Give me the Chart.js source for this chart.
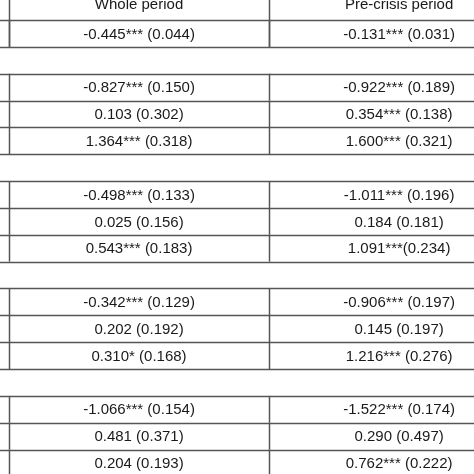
<!DOCTYPE html>
<html>
<head>
<meta charset="utf-8">
<script src="https://cdn.jsdelivr.net/npm/chart.js@4/dist/chart.umd.min.js"></script>
<style>
html, body { margin: 0; padding: 0; background: #fff; }
#wrap { width: 474px; height: 474px; }
</style>
</head>
<body>
<div id="wrap"><canvas id="tabla"></canvas></div>
<script>
// column headers and cell values
var columnas = ['Whole period', 'Pre-crisis period'];
// row slots on the y axis (gaps between blocks are empty slots)
var filas = [0, 2, 3, 4, 6, 7, 8, 10, 11, 12, 14, 15, 16];
var wholePeriod = [
    '-0.445*** (0.044)',
    '-0.827*** (0.150)', '0.103 (0.302)', '1.364*** (0.318)',
    '-0.498*** (0.133)', '0.025 (0.156)', '0.543*** (0.183)',
    '-0.342*** (0.129)', '0.202 (0.192)', '0.310* (0.168)',
    '-1.066*** (0.154)', '0.481 (0.371)', '0.204 (0.193)'
];
var preCrisis = [
    '-0.131*** (0.031)',
    '-0.922*** (0.189)', '0.354*** (0.138)', '1.600*** (0.321)',
    '-1.011*** (0.196)', '0.184 (0.181)', '1.091***(0.234)',
    '-0.906*** (0.197)', '0.145 (0.197)', '1.216*** (0.276)',
    '-1.522*** (0.174)', '0.290 (0.497)', '0.762*** (0.222)'
];

var celdas = [];
filas.forEach(function (f, i) {
    celdas.push({ x: 0.5, y: f + 0.5, t: wholePeriod[i] });
    celdas.push({ x: 1.5, y: f + 0.5, t: preCrisis[i] });
});
columnas.forEach(function (c, i) {
    celdas.push({ x: i + 0.5, y: -0.5, t: c });
});

var dibujarTabla = {
    id: 'dibujarTabla',
    afterDatasetsDraw: function (chart) {
        var ctx = chart.ctx;
        var sx = chart.scales.x, sy = chart.scales.y;
        var izq = chart.chartArea.left, der = chart.chartArea.right;
        ctx.save();
        ctx.strokeStyle = '#555';
        ctx.lineWidth = 1.5;
        // horizontal rules around every data row
        var lineas = {};
        filas.forEach(function (f) { lineas[f] = 1; lineas[f + 1] = 1; });
        Object.keys(lineas).forEach(function (k) {
            var y = Math.round(sy.getPixelForValue(+k)) + 0.5;
            ctx.beginPath(); ctx.moveTo(izq, y); ctx.lineTo(der, y); ctx.stroke();
        });
        // vertical rules: header and data rows
        var tramos = [[-1, 1]];
        filas.forEach(function (f) { tramos.push([f, f + 1]); });
        [0, 1].forEach(function (c) {
            var x = Math.round(sx.getPixelForValue(c)) + 0.5;
            tramos.forEach(function (t) {
                ctx.beginPath();
                ctx.moveTo(x, sy.getPixelForValue(t[0]));
                ctx.lineTo(x, sy.getPixelForValue(t[1]));
                ctx.stroke();
            });
        });
        ctx.fillStyle = '#1a1a1a';
        ctx.font = '15px "Liberation Sans", Arial, sans-serif';
        ctx.textAlign = 'center';
        ctx.textBaseline = 'middle';
        celdas.forEach(function (c) {
            var y = c.y < 0 ? sy.getPixelForValue(-0.5) - 3 : sy.getPixelForValue(c.y);
            ctx.fillText(c.t, sx.getPixelForValue(c.x), y + 1);
        });
        ctx.restore();
    }
};

var tabla = new Chart(document.getElementById('tabla').getContext('2d'), {
    type: 'scatter',
    data: {
        datasets: [{
            data: celdas.map(function (c) { return { x: c.x, y: c.y }; }),
            pointRadius: 0
        }]
    },
    options: {
        responsive: true,
        maintainAspectRatio: false,
        animation: false,
        layout: { padding: 0 },
        plugins: { legend: { display: false }, tooltip: { enabled: false } },
        scales: {
            x: { type: 'linear', min: -0.0346, max: 1.788, display: false },
            y: { type: 'linear', min: -0.745, max: 16.91, reverse: true, display: false }
        }
    },
    plugins: [dibujarTabla]
});
</script>
</body>
</html>
